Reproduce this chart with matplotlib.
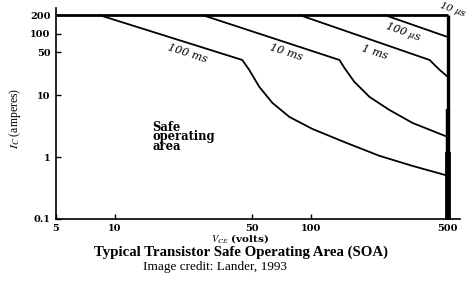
import numpy as np
import matplotlib
matplotlib.use('Agg')
import matplotlib.pyplot as plt

plt.rcParams['mathtext.fontset'] = 'stix'
plt.rcParams['font.family'] = 'DejaVu Serif'

volts_100ms = [8.3, 44.7, 48.5, 54.6, 63.7, 77.8, 101.9, 152, 224, 331, 500]
amps_100ms = [200, 37.4, 25.8, 13.7, 7.54, 4.47, 2.86, 1.70, 1.05, 0.72, 0.50]

volts_10ms = [27.9, 140, 148.6, 167, 199.5, 252, 331, 500]
amps_10ms = [200, 37.4, 27.7, 16.5, 9.42, 5.80, 3.57, 2.12]

volts_1ms = [87.5, 404, 455, 500]
amps_1ms = [200, 37.4, 25.8, 19.9]

volts_100us = [238, 500]
amps_100us = [200, 88]

i_max = 200
v_max = 500  # 10 us limit

x_ticks = [5, 10, 50, 100, 500]
x_ticklabels = ['5', '10', '50', '100', '500']
y_ticks = [0.1, 1, 10, 50, 100, 200]
y_ticklabels = ['0.1', '1', '10', '50', '100', '200']

# label name, V, I, rotation
curve_labels = [
    ('100 ms', 23.4, 48.5, -18, 8),
    ('10 ms', 75, 50.4, -18, 8),
    ('1 ms', 212, 50, -18, 8),
    ('100 $\\mu$s', 298, 106, -20, 8),
    ('10 $\\mu$s', 530, 245, -20, 7.5),
]

fig = plt.figure(figsize=(4.74, 2.95), dpi=100)
ax = fig.add_axes([0.118, 0.258, 0.852, 0.715])

ax.set_xscale('log')
ax.set_yscale('log')
ax.set_xlim(5, 576)
ax.set_ylim(0.1, 260)

lw = 1.3
ax.plot(volts_100ms, amps_100ms, color='black', lw=lw, solid_joinstyle='round')
ax.plot(volts_10ms, amps_10ms, color='black', lw=lw, solid_joinstyle='round')
ax.plot(volts_1ms, amps_1ms, color='black', lw=lw, solid_joinstyle='round')
ax.plot(volts_100us, amps_100us, color='black', lw=lw)

# current limit at the top, voltage limit on the right
ax.plot([5, v_max], [i_max, i_max], color='black', lw=2.0, solid_capstyle='butt')
ax.plot([v_max, v_max], [6, i_max], color='black', lw=2.4, solid_capstyle='butt')
ax.plot([v_max, v_max], [1.2, 6], color='black', lw=3.2, solid_capstyle='butt')
ax.plot([v_max, v_max], [0.097, 1.2], color='black', lw=4.2,
        solid_capstyle='butt', clip_on=False)

for txt, v, a, rot, fs in curve_labels:
    ax.text(v, a, txt, fontsize=fs, style='italic', rotation=rot,
            ha='center', va='center', rotation_mode='anchor')

ax.text(15.5, 3.9, 'Safe\noperating\narea', fontsize=8.3, fontweight='bold',
        ha='left', va='top', linespacing=0.66)

for s in ['top', 'right']:
    ax.spines[s].set_visible(False)
for s in ['left', 'bottom']:
    ax.spines[s].set_linewidth(1.2)

ax.xaxis.set_minor_locator(matplotlib.ticker.NullLocator())
ax.yaxis.set_minor_locator(matplotlib.ticker.NullLocator())
ax.set_xticks(x_ticks)
ax.set_xticklabels(x_ticklabels)
ax.set_yticks(y_ticks)
ax.set_yticklabels(y_ticklabels)
ax.tick_params(direction='in', length=3.5, width=1, labelsize=7, pad=4)
ax.tick_params(axis='x', pad=3.5)
for lab in ax.get_xticklabels() + ax.get_yticklabels():
    lab.set_fontweight('bold')

fig.text(0.032, 0.60, '$I_C$ (amperes)', rotation=90, ha='center', va='center',
         fontsize=8.5, family='Liberation Serif')
fig.text(0.507, 0.193, '$V_{CE}$ (volts)', ha='center', va='center',
         fontsize=7.5, fontweight='bold')
fig.text(0.508, 0.145, 'Typical Transistor Safe Operating Area (SOA)',
         ha='center', va='center', fontsize=10.7, fontweight='bold',
         family='Liberation Serif')
fig.text(0.454, 0.094, 'Image credit: Lander, 1993', ha='center', va='center',
         fontsize=9.5, family='Liberation Serif')

fig.savefig('out.png', dpi=100)
